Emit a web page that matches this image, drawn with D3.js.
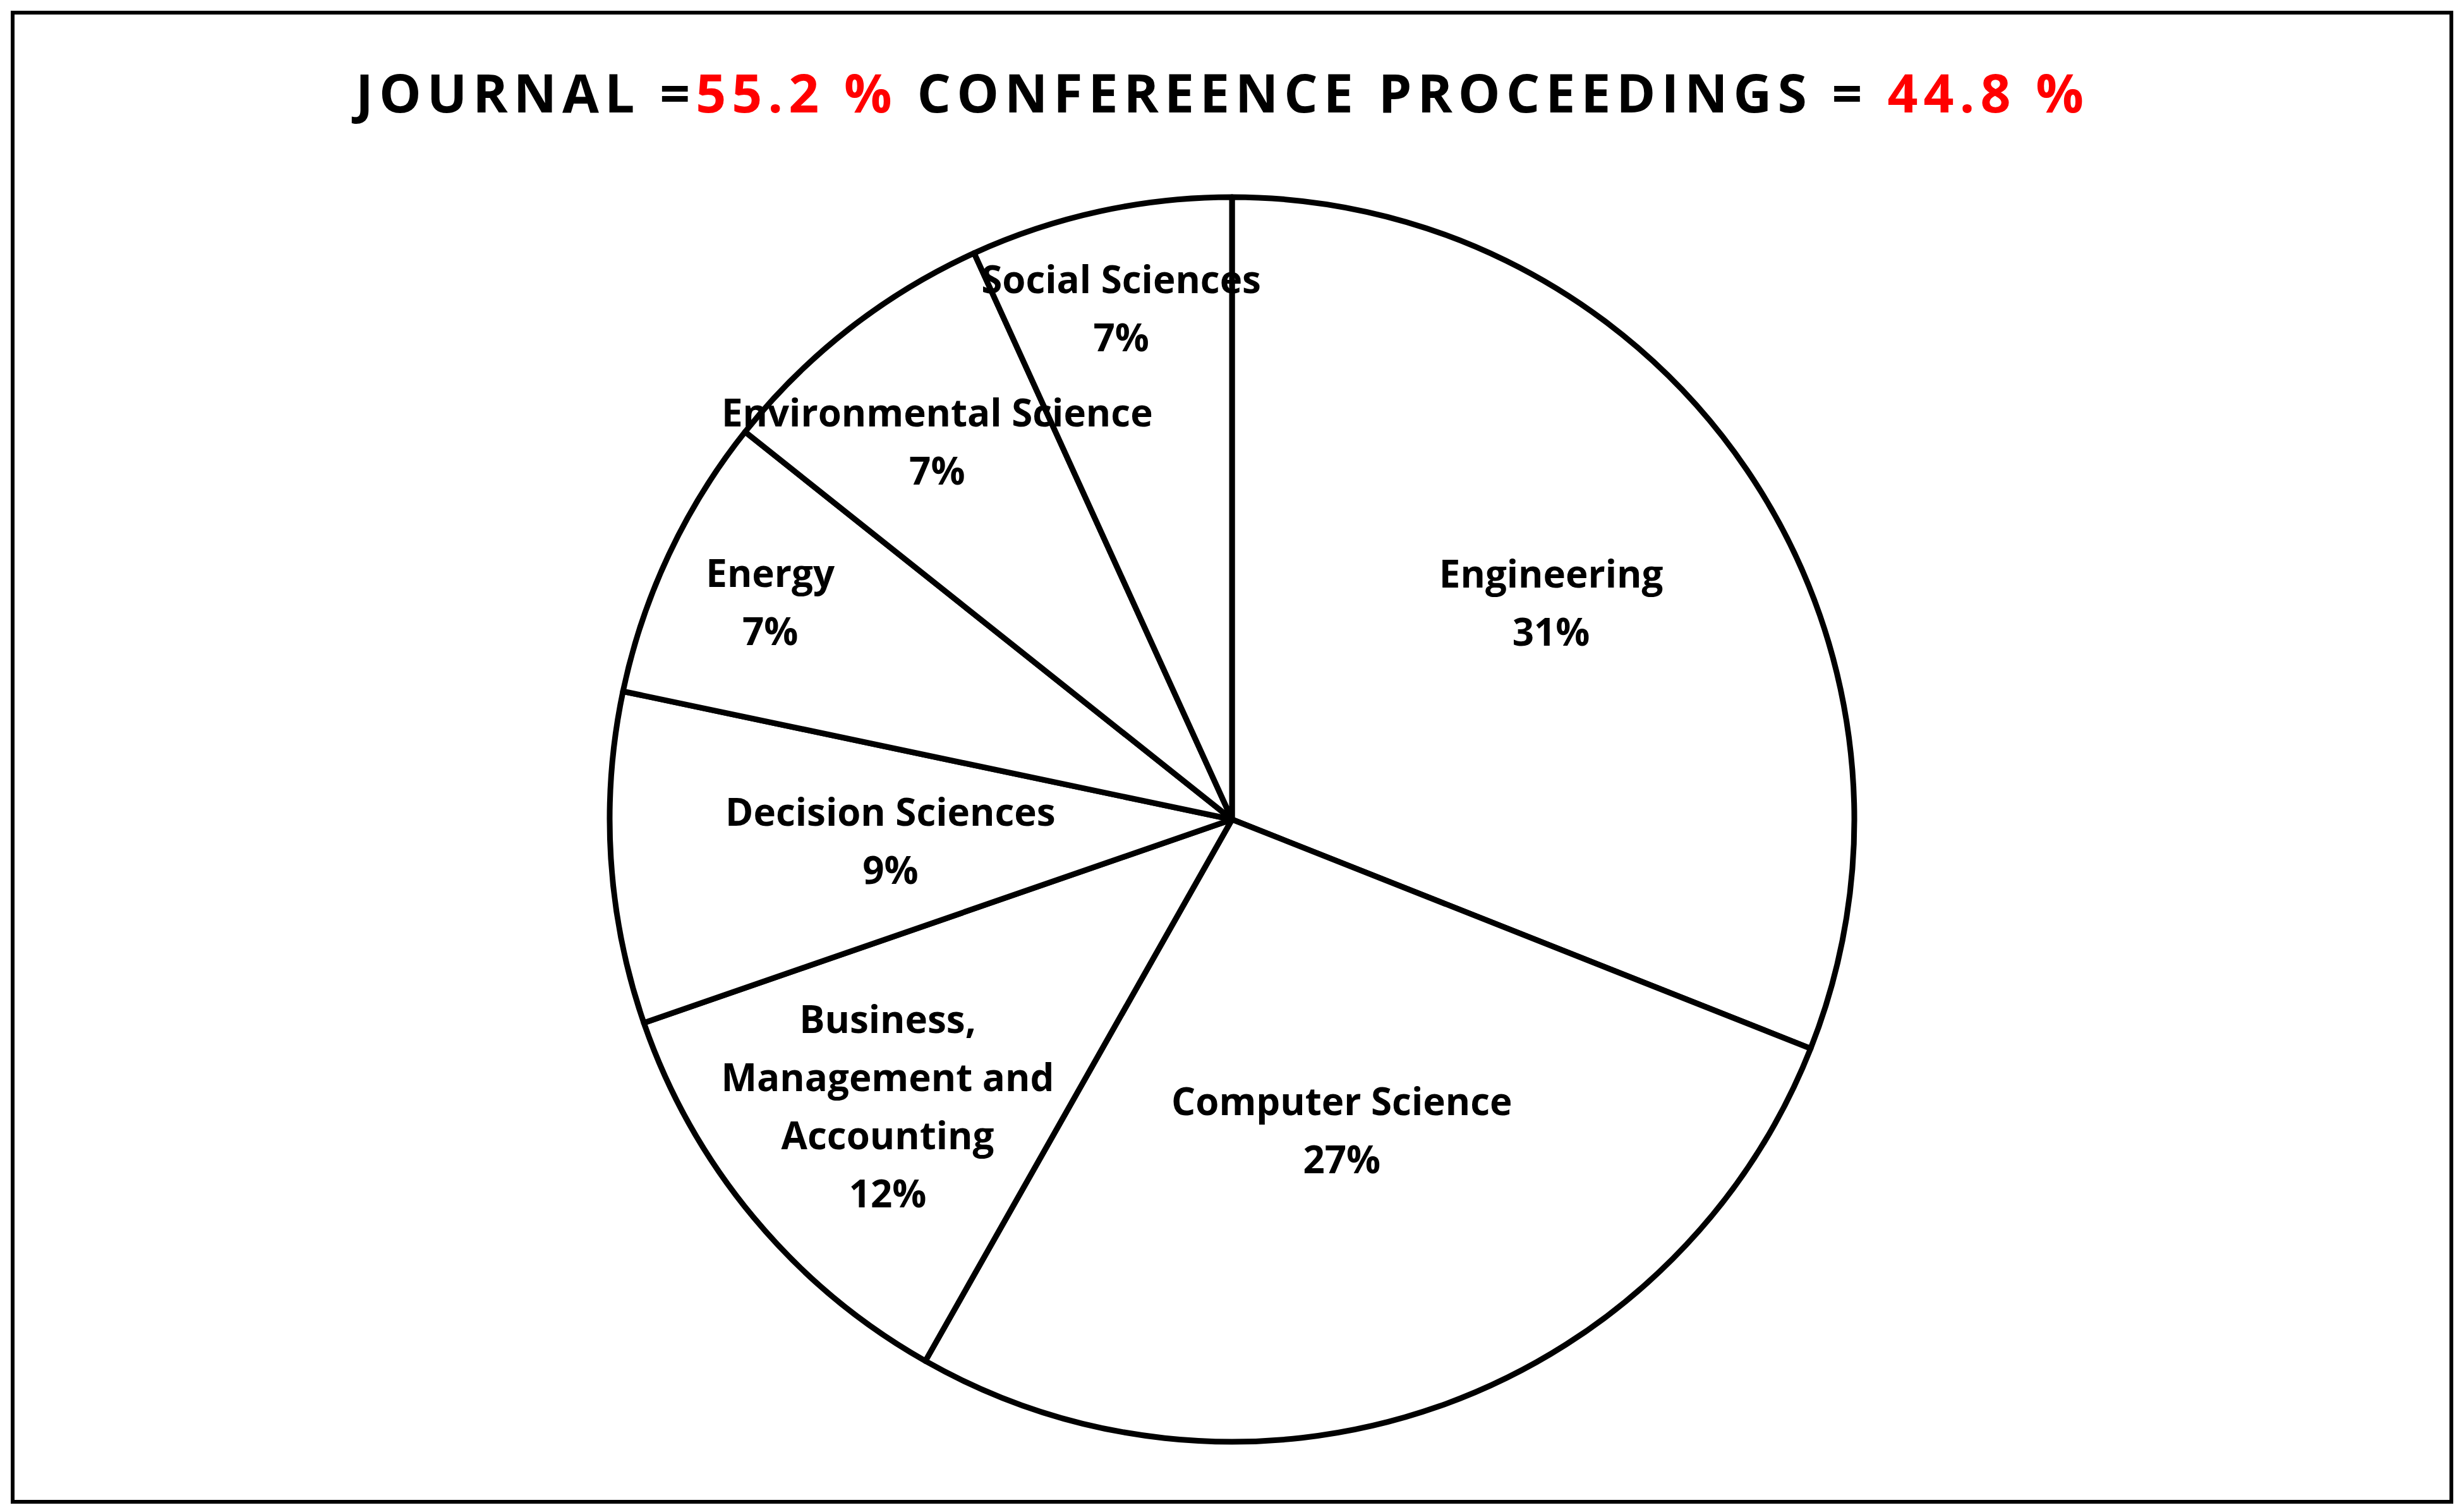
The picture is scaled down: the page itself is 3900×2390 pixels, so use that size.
<!DOCTYPE html>
<html><head><meta charset="utf-8">
<script src="https://cdn.jsdelivr.net/npm/d3@7"></script>
<style>body{margin:0;background:#fff}</style>
</head><body>
<div id="chart"></div>
<script>
// Datos
const categories = ["Engineering", "Computer Science", "Business, Management and Accounting",
  "Decision Sciences", "Energy", "Environmental Science", "Social Sciences"];
const labelLines = [["Engineering"], ["Computer Science"], ["Business,", "Management and", "Accounting"],
  ["Decision Sciences"], ["Energy"], ["Environmental Science"], ["Social Sciences"]];
const values = [31, 27.2, 11.5, 8.6, 7.4, 7.5, 6.8];
const pctLabels = ["31%", "27%", "12%", "9%", "7%", "7%", "7%"];

// Distancia de cada etiqueta al centro (fracción del radio)
const labelRadius = [0.62, 0.53, 0.72, 0.55, 0.82, 0.77, 0.84];

const width = 3900, height = 2390;
const cx = 1950, cy = 1297, r = 985;

const svg = d3.select("#chart").append("svg")
  .attr("width", width).attr("height", height)
  .attr("font-family", "'Open Sans', 'Liberation Sans', sans-serif")
  .attr("font-weight", "bold");

svg.append("rect").attr("x", 20).attr("y", 20).attr("width", 3860).attr("height", 2357)
  .attr("fill", "white").attr("stroke", "black").attr("stroke-width", 6);

// Título
const title = svg.append("text").attr("x", 1935).attr("y", 178)
  .attr("text-anchor", "middle").attr("font-size", 84).attr("letter-spacing", 9);
title.append("tspan").text("JOURNAL =");
title.append("tspan").attr("fill", "#ff0000").text("55.2 %");
title.append("tspan").text(" CONFEREENCE PROCEEDINGS = ");
title.append("tspan").attr("fill", "#ff0000").text("44.8 %");

const pie = d3.pie().sort(null).value(d => d);
const arcs = pie(values);
const arc = d3.arc().innerRadius(0).outerRadius(r);

const g = svg.append("g").attr("transform", `translate(${cx},${cy})`);
g.selectAll("path").data(arcs).join("path")
  .attr("d", arc).attr("fill", "white").attr("stroke", "black")
  .attr("stroke-width", 9).attr("stroke-linejoin", "round");

const lineH = 92;
arcs.forEach((a, i) => {
  const lr = labelRadius[i] * r;
  const [x, y] = d3.arc().innerRadius(lr).outerRadius(lr).centroid(a);
  const lines = labelLines[i].concat([pctLabels[i]]);
  const t = g.append("text").attr("text-anchor", "middle").attr("font-size", 60);
  lines.forEach((s, k) => {
    t.append("tspan").attr("x", x)
      .attr("y", y + (k - (lines.length - 1) / 2) * lineH + 22).text(s);
  });
});
</script>
</body></html>
